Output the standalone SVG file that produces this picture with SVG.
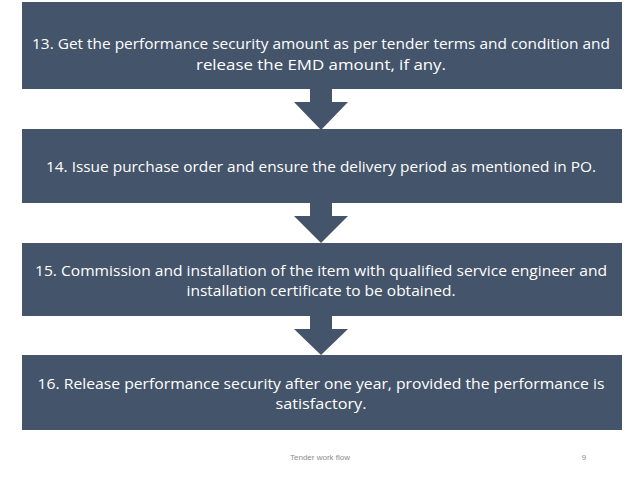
<svg xmlns="http://www.w3.org/2000/svg" width="638" height="478" viewBox="0 0 638 478">
<style>
.box{fill:#44546A}
.t{fill:#fff;font-family:"Open Sans","Liberation Sans",sans-serif;font-size:15px;text-anchor:middle}
.f{fill:#8c8c8c;font-family:"Liberation Sans",sans-serif;font-size:8px;text-anchor:middle}
</style>
<rect width="638" height="478" fill="#fff"/>
<g id="connectors" fill="#44546A">
<polygon points="310,89 332,89 332,102 348,102 321,130 294,102 310,102"/>
<polygon points="310,203 332,203 332,216 348,216 321,243 294,216 310,216"/>
<polygon points="310,316 332,316 332,329 348,329 321,355 294,329 310,329"/>
</g>
<g id="n13"><rect class="box" x="22" y="2" width="600" height="87"/>
<text class="t" x="321" y="49" textLength="578" lengthAdjust="spacingAndGlyphs">13. Get the performance security amount as per tender terms and condition and</text>
<text class="t" x="321" y="70" textLength="250" lengthAdjust="spacingAndGlyphs">release the EMD amount, if any.</text></g>
<g id="n14"><rect class="box" x="22" y="129" width="600" height="74"/>
<text class="t" x="321" y="172" textLength="550" lengthAdjust="spacingAndGlyphs">14. Issue purchase order and ensure the delivery period as mentioned in PO.</text></g>
<g id="n15"><rect class="box" x="22" y="243" width="600" height="73"/>
<text class="t" x="321" y="276" textLength="572" lengthAdjust="spacingAndGlyphs">15. Commission and installation of the item with qualified service engineer and</text>
<text class="t" x="321" y="296" textLength="269" lengthAdjust="spacingAndGlyphs">installation certificate to be obtained.</text></g>
<g id="n16"><rect class="box" x="22" y="355" width="600" height="75"/>
<text class="t" x="321" y="389" textLength="567" lengthAdjust="spacingAndGlyphs">16. Release performance security after one year, provided the performance is</text>
<text class="t" x="321" y="409" textLength="91" lengthAdjust="spacingAndGlyphs">satisfactory.</text></g>
<text class="f" x="320" y="460">Tender work flow</text>
<text class="f" x="584" y="460">9</text>
</svg>
